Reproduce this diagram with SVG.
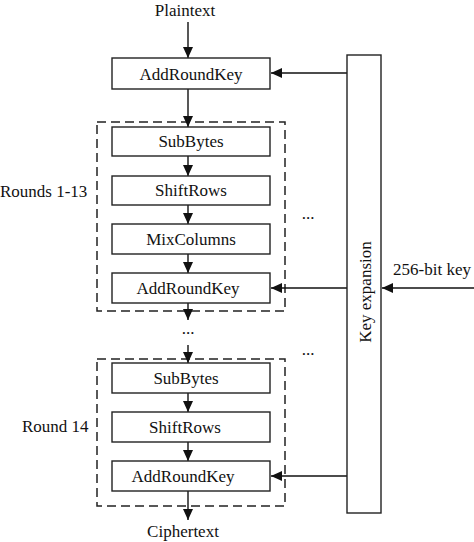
<svg xmlns="http://www.w3.org/2000/svg" width="474" height="542" viewBox="0 0 474 542">
<style>
text{font-family:"Liberation Serif","Times New Roman",serif;font-size:17px;fill:#111}
.c{text-anchor:middle}
.box{fill:#fff;stroke:#222;stroke-width:1.4}
.dash{fill:none;stroke:#222;stroke-width:1.5;stroke-dasharray:9 5}
.ln{stroke:#111;stroke-width:1.4;fill:none}
</style>
<defs>
<marker id="ah" markerUnits="userSpaceOnUse" markerWidth="12" markerHeight="10" refX="11" refY="5" orient="auto">
<path d="M0,0 L11,5 L0,10 Z" fill="#111"/>
</marker>
</defs>
<rect fill="#fff" width="474" height="542"/>
<g id="dashed-groups">
<rect class="dash" x="97" y="122" width="188" height="189"/>
<rect class="dash" x="97" y="359" width="188" height="147"/>
</g>
<g id="labels">
<text class="c" x="185" y="16">Plaintext</text>
<text class="c" x="183" y="537">Ciphertext</text>
<text x="0" y="197">Rounds 1-13</text>
<text x="22" y="432">Round 14</text>
<text class="c" x="432" y="275">256-bit key</text>
<text class="c" x="188" y="334">...</text>
<text class="c" x="308" y="219">...</text>
<text class="c" x="308" y="355">...</text>
</g>
<g id="connectors">
<line class="ln" x1="188" y1="22" x2="188" y2="58" marker-end="url(#ah)"/>
<line class="ln" x1="188" y1="89" x2="188" y2="127" marker-end="url(#ah)"/>
<line class="ln" x1="188" y1="156" x2="188" y2="176" marker-end="url(#ah)"/>
<line class="ln" x1="188" y1="205" x2="188" y2="224" marker-end="url(#ah)"/>
<line class="ln" x1="188" y1="254" x2="188" y2="273" marker-end="url(#ah)"/>
<line class="ln" x1="188" y1="303" x2="188" y2="320" marker-end="url(#ah)"/>
<line class="ln" x1="188" y1="345" x2="188" y2="363" marker-end="url(#ah)"/>
<line class="ln" x1="188" y1="393" x2="188" y2="412" marker-end="url(#ah)"/>
<line class="ln" x1="188" y1="442" x2="188" y2="461" marker-end="url(#ah)"/>
<line class="ln" x1="188" y1="491" x2="188" y2="520" marker-end="url(#ah)"/>
<line class="ln" x1="347" y1="73" x2="271" y2="73" marker-end="url(#ah)"/>
<line class="ln" x1="347" y1="288" x2="271" y2="288" marker-end="url(#ah)"/>
<line class="ln" x1="347" y1="476" x2="271" y2="476" marker-end="url(#ah)"/>
<line class="ln" x1="474" y1="288" x2="382" y2="288" marker-end="url(#ah)"/>
</g>
<g id="addroundkey-0"><rect class="box" x="112" y="58" width="158" height="31"/><text class="c" x="191" y="80">AddRoundKey</text></g>
<g id="subbytes-1"><rect class="box" x="112" y="127" width="158" height="29"/><text class="c" x="191" y="147">SubBytes</text></g>
<g id="shiftrows-1"><rect class="box" x="112" y="176" width="158" height="29"/><text class="c" x="191" y="196">ShiftRows</text></g>
<g id="mixcolumns-1"><rect class="box" x="112" y="224" width="158" height="30"/><text class="c" x="191" y="245">MixColumns</text></g>
<g id="addroundkey-1"><rect class="box" x="112" y="273" width="158" height="30"/><text class="c" x="188" y="294">AddRoundKey</text></g>
<g id="subbytes-14"><rect class="box" x="112" y="363" width="158" height="30"/><text class="c" x="186" y="384">SubBytes</text></g>
<g id="shiftrows-14"><rect class="box" x="112" y="412" width="158" height="30"/><text class="c" x="185" y="433">ShiftRows</text></g>
<g id="addroundkey-14"><rect class="box" x="112" y="461" width="158" height="30"/><text class="c" x="183" y="482">AddRoundKey</text></g>
<g id="key-expansion"><rect class="box" x="347" y="55" width="34" height="458"/><text class="c" transform="translate(371,292) rotate(-90)">Key expansion</text></g>
</svg>
